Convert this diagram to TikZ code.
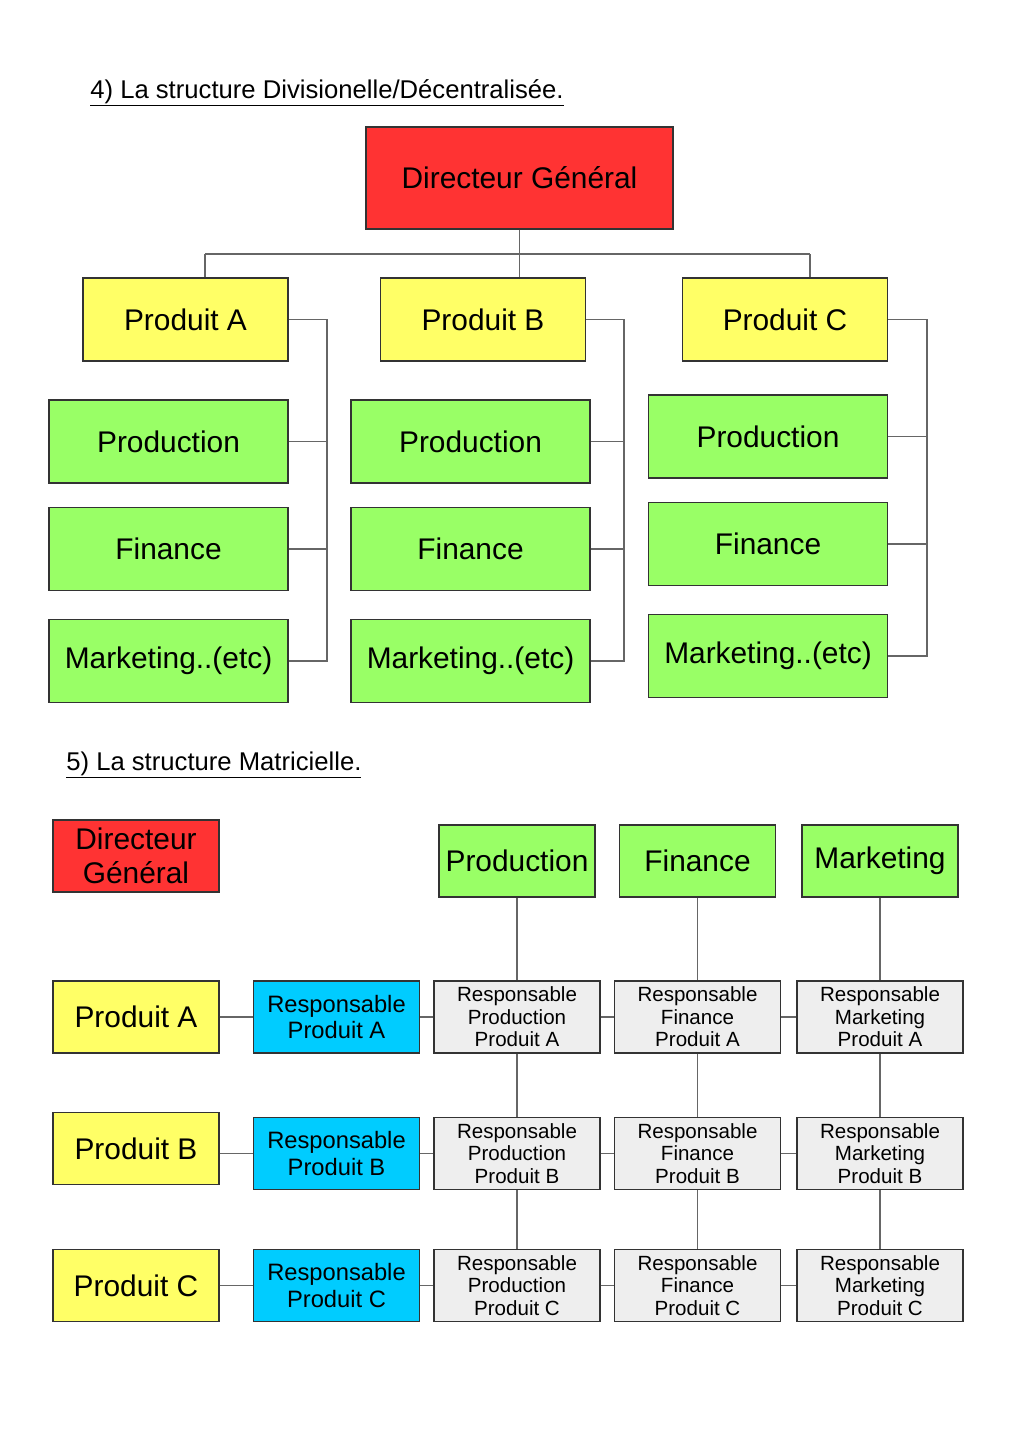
\documentclass[tikz,border=0pt]{standalone}
\usepackage{fontspec}
\setmainfont{Liberation Sans}
\usetikzlibrary{positioning}

\definecolor{dirred}{HTML}{FF3333}
\definecolor{prodyellow}{HTML}{FFFF66}
\definecolor{fngreen}{HTML}{99FF66}
\definecolor{respblue}{HTML}{00CCFF}
\definecolor{cellgray}{HTML}{EEEEEE}

\begin{document}
\begin{tikzpicture}[x=0.02cm, y=-0.02cm,
  box/.style={draw=black!80, line width=0.8pt, align=center, inner sep=0pt,
              font=\fontsize{17}{19.3}\selectfont},
  dirbox/.style={box, fill=dirred, minimum width=6.14cm, minimum height=2.04cm},
  prodbox/.style={box, fill=prodyellow, minimum width=4.1cm, minimum height=1.66cm},
  fnbox/.style={box, fill=fngreen, minimum width=4.78cm, minimum height=1.66cm},
  mbox/.style={box, minimum width=3.32cm, minimum height=1.44cm},
  mfnbox/.style={box, fill=fngreen, minimum width=3.12cm, minimum height=1.44cm},
  respbox/.style={mbox, fill=respblue, font=\fontsize{13.5}{15.3}\selectfont},
  cellbox/.style={mbox, fill=cellgray, font=\fontsize{11.7}{12.8}\selectfont},
  title/.style={anchor=base west, inner sep=0pt, font=\fontsize{14.6}{17}\selectfont},
  link/.style={draw=black!60, line width=0.6pt}
]
\useasboundingbox (0,0) rectangle (1024,1450);

% 4) divisional structure
\node[title] (t4) at (90,98) {\underline{4) La structure Divisionelle/Décentralisée.}};
\node[dirbox] (dg) at (519.5,178) {Directeur Général};
\node[prodbox] (pA) at (185.5,319.5) {Produit A};
\node[prodbox] (pB) at (483,319.5) {Produit B};
\node[prodbox] (pC) at (785,319.5) {Produit C};

\node[fnbox] (prodA) at (168.5,441.5) {Production};
\node[fnbox] (finA) at (168.5,549) {Finance};
\node[fnbox] (mkA) at (168.5,661) {Marketing..(etc)};
\node[fnbox] (prodB) at (470.5,441.5) {Production};
\node[fnbox] (finB) at (470.5,549) {Finance};
\node[fnbox] (mkB) at (470.5,661) {Marketing..(etc)};
\node[fnbox] (prodC) at (768,436.5) {Production};
\node[fnbox] (finC) at (768,544) {Finance};
\node[fnbox] (mkC) at (768,656) {Marketing..(etc)};

\coordinate (busA) at (205,254);
\coordinate (busC) at (810,254);
\draw[link] (busA) -- (busC);
\draw[link] (dg) -- (dg |- pB.north);
\draw[link] (busA) -- (busA |- pA.north);
\draw[link] (busC) -- (busC |- pC.north);

\coordinate (spA) at (327,0);
\coordinate (spB) at (624,0);
\coordinate (spC) at (927,0);
\foreach \c in {A,B,C}{
  \draw[link] (p\c.east) -| (sp\c |- mk\c.east) -- (mk\c.east);
  \draw[link] (prod\c.east) -- (prod\c.east -| sp\c);
  \draw[link] (fin\c.east) -- (fin\c.east -| sp\c);
}

% 5) matrix structure
\node[title] (t5) at (66,770) {\underline{5) La structure Matricielle.}};
\node[mbox, fill=dirred] (mdg) at (136,856) {Directeur\\Général};
\node[mfnbox] (mprod) at (517,861) {Production};
\node[mfnbox] (mfin) at (697.5,861) {Finance};
\node[mfnbox] (mmk) at (880,861) {Marketing};

\foreach \r/\y/\yy in {A/1017/1017, B/1148.5/1153.5, C/1285.5/1285.5}{
  \node[mbox, fill=prodyellow] (mp\r) at (136,\y) {Produit \r};
  \node[respbox] (resp\r) at (336.5,\yy) {Responsable\\Produit \r};
  \node[cellbox] (cprod\r) at (517,\yy) {Responsable\\Production\\Produit \r};
  \node[cellbox] (cfin\r) at (697.5,\yy) {Responsable\\Finance\\Produit \r};
  \node[cellbox] (cmk\r) at (880,\yy) {Responsable\\Marketing\\Produit \r};
  \draw[link] (mp\r.east |- resp\r.west) -- (resp\r.west);
  \draw[link] (resp\r) -- (cprod\r) (cprod\r) -- (cfin\r) (cfin\r) -- (cmk\r);
}
\draw[link] (mprod) -- (cprodA) (cprodA) -- (cprodB) (cprodB) -- (cprodC);
\draw[link] (mfin) -- (cfinA) (cfinA) -- (cfinB) (cfinB) -- (cfinC);
\draw[link] (mmk) -- (cmkA) (cmkA) -- (cmkB) (cmkB) -- (cmkC);
\end{tikzpicture}
\end{document}
